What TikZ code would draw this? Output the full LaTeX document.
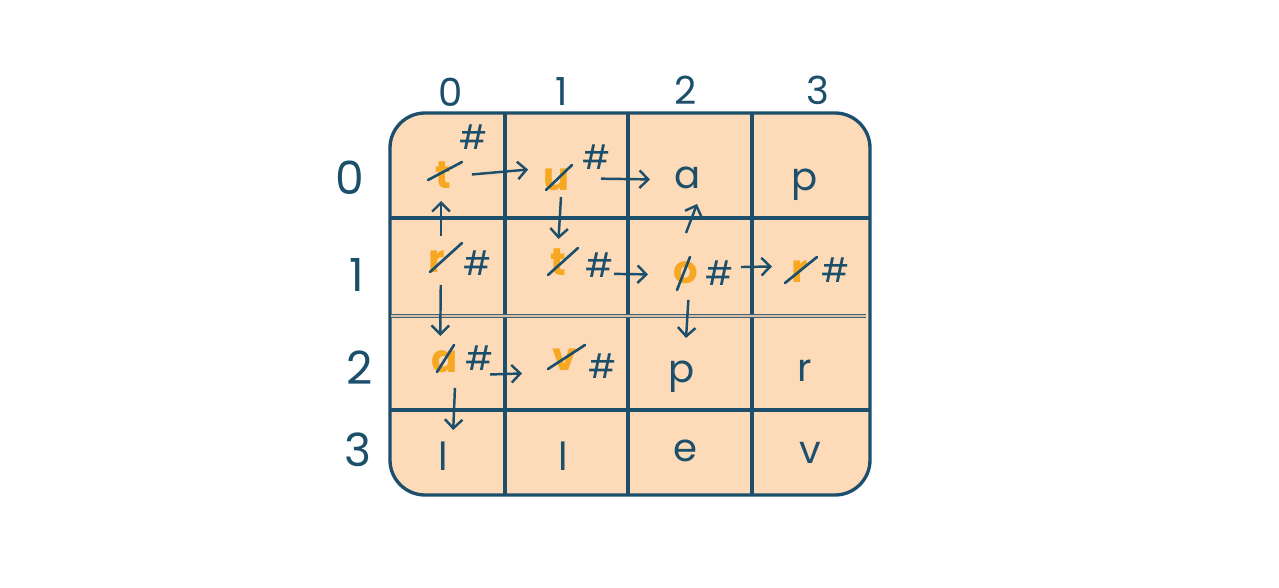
\documentclass[tikz,border=0pt]{standalone}
\usepackage{fontspec}
\setmainfont{Poppins}
\usepackage{xcolor}
\usepackage{tikz}
\usetikzlibrary{arrows.meta}
\definecolor{navy}{HTML}{1B4F6B}
\definecolor{peach}{HTML}{FDDBB8}
\definecolor{marigold}{HTML}{F7A823}
\def\pxu{0.02cm}

\begin{document}
\begin{tikzpicture}[x=0.02cm, y=-0.02cm,
  letter/.style={circle, minimum size=0.8cm, inner sep=0pt,
    text height=12pt, text depth=0pt, font=\fontsize{22}{22}\selectfont},
  seen/.style={letter, text=marigold, font=\fontsize{22}{22}\selectfont\bfseries},
  fresh/.style={letter, text=navy},
  hashmark/.style={inner sep=0pt, text=navy, font=\fontsize{19}{19}\selectfont},
  idx/.style={inner sep=0pt, text=navy, font=\fontsize{22}{22}\selectfont},
  arr/.style={-{Straight Barb[length=5pt,width=10pt]}, line width=1.4pt, navy},
  strike/.style={line width=1.5pt, navy, line cap=round},
  gridline/.style={line width=1.9pt, navy},
]
\useasboundingbox (0,0) rectangle (1279,588);

% Board
\draw[gridline, fill=peach, rounded corners=0.7cm] (390,113) rectangle (870,495);
\foreach \x in {505,628,752}
  \draw[gridline] (\x,113) -- (\x,496);
\foreach \y in {218,410}
  \draw[gridline] (390,\y) -- (870,\y);
\draw[line width=0.5pt, draw=navy!60!gray, double=peach!70!gray, double distance=0.8pt]
  (391,316) -- (866,316);

% Column and row indices
\node[idx] (col0) at (451,92) {0};
\node[idx] (col1) at (562,92) {1};
\node[idx] (col2) at (686,90) {2};
\node[idx] (col3) at (818,90) {3};
\node[idx, font=\fontsize{26}{26}\selectfont] (row0) at (350,178) {0};
\node[idx, font=\fontsize{26}{26}\selectfont] (row1) at (357,275) {1};
\node[idx, font=\fontsize{26}{26}\selectfont] (row2) at (360,368) {2};
\node[idx, font=\fontsize{26}{26}\selectfont] (row3) at (358,450) {3};

% Letters (visited ones in orange)
\node[seen]  (c00) at (443,178) {t};
\node[seen]  (c01) at (557,180) {u};
\node[fresh] (c02) at (688,178) {a};
\node[fresh] (c03) at (805,180) {p};
\node[seen]  (c10) at (437,262) {r};
\node[seen]  (c11) at (558,265) {t};
\node[seen]  (c12) at (686,273) {o};
\node[seen]  (c13) at (800,272) {r};
\node[seen]  (c20) at (445,362) {a};
\node[seen]  (c21) at (565,360) {v};
\node[fresh] (c22) at (682,372) {p};
\node[fresh] (c23) at (805,371) {r};
\node[fresh] (c30) at (443,460) {l};
\node[fresh] (c31) at (563,460) {l};
\node[fresh] (c32) at (685,451) {e};
\node[fresh] (c33) at (810,453) {v};

% Strike-throughs
\draw[strike] ([shift={(-15,2)}]c00.center) -- ([shift={(19,-16)}]c00.center);
\draw[strike] ([shift={(-11,10)}]c01.center) -- ([shift={(15,-15)}]c01.center);
\draw[strike] ([shift={(-7,10)}]c10.center) -- ([shift={(25,-19)}]c10.center);
\draw[strike] ([shift={(-10,10)}]c11.center) -- ([shift={(20,-17)}]c11.center);
\draw[strike] ([shift={(-9,17)}]c12.center) -- ([shift={(4,-16)}]c12.center);
\draw[strike] ([shift={(-15,11)}]c13.center) -- ([shift={(17,-15)}]c13.center);
\draw[strike] ([shift={(-8,10)}]c20.center) -- ([shift={(9,-17)}]c20.center);
\draw[strike] ([shift={(-17,9)}]c21.center) -- ([shift={(20,-15)}]c21.center);

% Hash marks
\node[hashmark] (h00) at (474,137) {\#};
\node[hashmark] (h01) at (597,157) {\#};
\node[hashmark] (h10) at (478,263) {\#};
\node[hashmark] (h11) at (600,265) {\#};
\node[hashmark] (h12) at (720,273) {\#};
\node[hashmark] (h13) at (836,270) {\#};
\node[hashmark] (h20) at (480,358) {\#};
\node[hashmark] (h21) at (603,366) {\#};

% Search path
\draw[arr, shorten <=26*\pxu, shorten >=23*\pxu]
  ([shift={(4,0)}]c10.center) -- ([shift={(-2,0)}]c00.center);
\draw[arr, shorten <=29*\pxu, shorten >=29*\pxu]
  ([shift={(0,-1)}]c00.center) -- ([shift={(0,-13)}]c01.center);
\draw[arr, shorten <=17*\pxu, shorten >=26*\pxu]
  ([shift={(5,0)}]c01.center) -- ([shift={(-1,0)}]c11.center);
\draw[arr, shorten <=44*\pxu, shorten >=38*\pxu]
  ([shift={(0,-2)}]c01.center) -- ([shift={(0,2)}]c02.center);
\draw[arr, shorten <=56*\pxu, shorten >=38*\pxu]
  ([shift={(0,8)}]c11.center) -- ([shift={(0,2)}]c12.center);
\draw[arr] ([shift={(0,-40)}]c12.center) -- ([shift={(9,26)}]c02.center);
\draw[arr, shorten <=55*\pxu, shorten >=28*\pxu]
  ([shift={(0,-5)}]c12.center) -- ([shift={(0,-6)}]c13.center);
\draw[arr, shorten <=27*\pxu, shorten >=34*\pxu]
  ([shift={(4,0)}]c12.center) -- ([shift={(2,0)}]c22.center);
\draw[arr, shorten <=23*\pxu, shorten >=26*\pxu]
  ([shift={(4,0)}]c10.center) -- ([shift={(-5,0)}]c20.center);
\draw[arr, shorten <=45*\pxu, shorten >=43*\pxu]
  ([shift={(0,14)}]c20.center) -- ([shift={(0,12)}]c21.center);
\draw[arr, shorten <=26*\pxu, shorten >=30*\pxu]
  ([shift={(11,0)}]c20.center) -- ([shift={(9,0)}]c30.center);
\end{tikzpicture}
\end{document}
